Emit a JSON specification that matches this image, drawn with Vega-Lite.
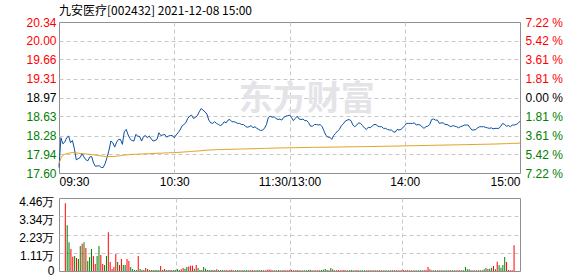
{
"$schema": "https://vega.github.io/schema/vega-lite/v6.json",
"background": "#ffffff",
"padding": {"left": 0, "top": 4, "right": 0, "bottom": 0},
"bounds": "flush",
"spacing": 25,
"config": {
  "font": "Liberation Sans",
  "view": {"stroke": "#8f8f8f", "strokeWidth": 1},
  "axis": {"labelFont": "Liberation Sans", "labelFontSize": 12, "domain": false, "ticks": false, "gridDash": [4, 3], "gridColor": "#c8c8c8", "gridWidth": 1, "title": null, "labelOverlap": false}
},
"datasets": {
"w": [{"t": 129, "p": 18.93, "s": "东方财富"}],
"m": [
{"t":0,"p":17.70,"a":17.77,"v":41350,"c":"u"},
{"t":1,"p":18.24,"a":17.87,"v":27970,"c":"d"},
{"t":2,"p":18.13,"a":17.92,"v":17630,"c":"d"},
{"t":3,"p":18.16,"a":17.94,"v":13380,"c":"u"},
{"t":4,"p":18.24,"a":17.95,"v":8720,"c":"u"},
{"t":5,"p":18.27,"a":17.96,"v":9120,"c":"d"},
{"t":6,"p":18.15,"a":17.965,"v":7900,"c":"u"},
{"t":7,"p":18.19,"a":17.97,"v":7300,"c":"d"},
{"t":8,"p":18.04,"a":17.97,"v":15200,"c":"d"},
{"t":9,"p":17.84,"a":17.965,"v":16620,"c":"u"},
{"t":10,"p":17.86,"a":17.96,"v":17630,"c":"d"},
{"t":11,"p":17.88,"a":17.955,"v":13990,"c":"u"},
{"t":12,"p":17.95,"a":17.95,"v":6080,"c":"d"},
{"t":13,"p":17.89,"a":17.95,"v":8510,"c":"d"},
{"t":14,"p":17.84,"a":17.945,"v":13380,"c":"d"},
{"t":15,"p":17.82,"a":17.94,"v":9120,"c":"u"},
{"t":16,"p":17.89,"a":17.94,"v":4260,"c":"u"},
{"t":17,"p":17.90,"a":17.935,"v":9120,"c":"d"},
{"t":18,"p":17.78,"a":17.93,"v":15200,"c":"d"},
{"t":19,"p":17.72,"a":17.925,"v":9730,"c":"u"},
{"t":20,"p":17.73,"a":17.92,"v":4260,"c":"u"},
{"t":21,"p":17.73,"a":17.915,"v":3650,"c":"d"},
{"t":22,"p":17.70,"a":17.91,"v":9120,"c":"d"},
{"t":23,"p":17.70,"a":17.905,"v":23720,"c":"u"},
{"t":24,"p":17.77,"a":17.90,"v":5470,"c":"u"},
{"t":25,"p":17.88,"a":17.90,"v":1220,"c":"u"},
{"t":26,"p":18.01,"a":17.90,"v":2430,"c":"u"},
{"t":27,"p":18.18,"a":17.90,"v":10340,"c":"u"},
{"t":28,"p":18.15,"a":17.90,"v":5470,"c":"d"},
{"t":29,"p":18.07,"a":17.90,"v":3650,"c":"u"},
{"t":30,"p":18.16,"a":17.905,"v":7300,"c":"u"},
{"t":31,"p":18.21,"a":17.91,"v":3650,"c":"d"},
{"t":32,"p":18.21,"a":17.915,"v":3650,"c":"d"},
{"t":33,"p":18.12,"a":17.92,"v":7300,"c":"u"},
{"t":34,"p":18.35,"a":17.925,"v":6080,"c":"u"},
{"t":35,"p":18.39,"a":17.93,"v":2430,"c":"d"},
{"t":36,"p":18.29,"a":17.93,"v":1220,"c":"d"},
{"t":37,"p":18.22,"a":17.935,"v":600,"c":"d"},
{"t":38,"p":18.19,"a":17.935,"v":600,"c":"d"},
{"t":39,"p":18.18,"a":17.94,"v":9120,"c":"u"},
{"t":40,"p":18.30,"a":17.94,"v":1220,"c":"d"},
{"t":41,"p":18.27,"a":17.94,"v":600,"c":"d"},
{"t":42,"p":18.26,"a":17.945,"v":600,"c":"u"},
{"t":43,"p":18.18,"a":17.945,"v":1820,"c":"u"},
{"t":44,"p":18.26,"a":17.945,"v":1220,"c":"d"},
{"t":45,"p":18.28,"a":17.95,"v":600,"c":"u"},
{"t":46,"p":18.24,"a":17.95,"v":600,"c":"u"},
{"t":47,"p":18.27,"a":17.95,"v":600,"c":"d"},
{"t":48,"p":18.22,"a":17.955,"v":600,"c":"d"},
{"t":49,"p":18.18,"a":17.955,"v":600,"c":"d"},
{"t":50,"p":18.19,"a":17.955,"v":600,"c":"d"},
{"t":51,"p":18.21,"a":17.96,"v":3040,"c":"u"},
{"t":52,"p":18.33,"a":17.96,"v":600,"c":"d"},
{"t":53,"p":18.28,"a":17.96,"v":1220,"c":"u"},
{"t":54,"p":18.29,"a":17.96,"v":600,"c":"d"},
{"t":55,"p":18.30,"a":17.965,"v":600,"c":"u"},
{"t":56,"p":18.25,"a":17.965,"v":600,"c":"d"},
{"t":57,"p":18.27,"a":17.965,"v":600,"c":"u"},
{"t":58,"p":18.28,"a":17.97,"v":600,"c":"d"},
{"t":59,"p":18.28,"a":17.97,"v":600,"c":"d"},
{"t":60,"p":18.24,"a":17.97,"v":1000,"c":"d"},
{"t":61,"p":18.29,"a":17.97,"v":600,"c":"d"},
{"t":62,"p":18.33,"a":17.975,"v":1000,"c":"u"},
{"t":63,"p":18.38,"a":17.975,"v":1800,"c":"u"},
{"t":64,"p":18.45,"a":17.98,"v":1400,"c":"d"},
{"t":65,"p":18.48,"a":17.98,"v":2430,"c":"d"},
{"t":66,"p":18.51,"a":17.985,"v":2800,"c":"u"},
{"t":67,"p":18.59,"a":17.985,"v":3200,"c":"u"},
{"t":68,"p":18.63,"a":17.99,"v":3200,"c":"u"},
{"t":69,"p":18.65,"a":17.99,"v":1400,"c":"d"},
{"t":70,"p":18.59,"a":17.995,"v":3650,"c":"u"},
{"t":71,"p":18.61,"a":17.995,"v":1800,"c":"d"},
{"t":72,"p":18.64,"a":18.00,"v":600,"c":"d"},
{"t":73,"p":18.71,"a":18.00,"v":600,"c":"u"},
{"t":74,"p":18.77,"a":18.005,"v":2430,"c":"d"},
{"t":75,"p":18.74,"a":18.01,"v":1400,"c":"d"},
{"t":76,"p":18.71,"a":18.01,"v":600,"c":"d"},
{"t":77,"p":18.67,"a":18.015,"v":600,"c":"d"},
{"t":78,"p":18.56,"a":18.015,"v":600,"c":"d"},
{"t":79,"p":18.51,"a":18.02,"v":600,"c":"u"},
{"t":80,"p":18.50,"a":18.02,"v":600,"c":"d"},
{"t":81,"p":18.53,"a":18.02,"v":1000,"c":"u"},
{"t":82,"p":18.50,"a":18.025,"v":600,"c":"d"},
{"t":83,"p":18.48,"a":18.025,"v":500,"c":"d"},
{"t":84,"p":18.46,"a":18.025,"v":600,"c":"d"},
{"t":85,"p":18.48,"a":18.025,"v":500,"c":"u"},
{"t":86,"p":18.53,"a":18.03,"v":600,"c":"u"},
{"t":87,"p":18.51,"a":18.03,"v":500,"c":"d"},
{"t":88,"p":18.56,"a":18.03,"v":600,"c":"u"},
{"t":89,"p":18.57,"a":18.03,"v":700,"c":"u"},
{"t":90,"p":18.53,"a":18.03,"v":500,"c":"d"},
{"t":91,"p":18.53,"a":18.032,"v":500,"c":"u"},
{"t":92,"p":18.52,"a":18.032,"v":600,"c":"d"},
{"t":93,"p":18.50,"a":18.034,"v":500,"c":"d"},
{"t":94,"p":18.50,"a":18.034,"v":500,"c":"u"},
{"t":95,"p":18.48,"a":18.036,"v":600,"c":"d"},
{"t":96,"p":18.48,"a":18.036,"v":500,"c":"d"},
{"t":97,"p":18.45,"a":18.038,"v":600,"c":"d"},
{"t":98,"p":18.43,"a":18.038,"v":500,"c":"d"},
{"t":99,"p":18.44,"a":18.04,"v":500,"c":"u"},
{"t":100,"p":18.46,"a":18.04,"v":600,"c":"u"},
{"t":101,"p":18.42,"a":18.04,"v":500,"c":"d"},
{"t":102,"p":18.44,"a":18.042,"v":500,"c":"u"},
{"t":103,"p":18.41,"a":18.042,"v":600,"c":"d"},
{"t":104,"p":18.39,"a":18.044,"v":500,"c":"d"},
{"t":105,"p":18.37,"a":18.044,"v":600,"c":"d"},
{"t":106,"p":18.38,"a":18.046,"v":500,"c":"u"},
{"t":107,"p":18.41,"a":18.046,"v":500,"c":"u"},
{"t":108,"p":18.48,"a":18.048,"v":700,"c":"u"},
{"t":109,"p":18.61,"a":18.048,"v":900,"c":"u"},
{"t":110,"p":18.63,"a":18.05,"v":700,"c":"u"},
{"t":111,"p":18.61,"a":18.05,"v":500,"c":"d"},
{"t":112,"p":18.62,"a":18.052,"v":500,"c":"u"},
{"t":113,"p":18.59,"a":18.052,"v":500,"c":"d"},
{"t":114,"p":18.57,"a":18.054,"v":600,"c":"d"},
{"t":115,"p":18.58,"a":18.054,"v":500,"c":"u"},
{"t":116,"p":18.56,"a":18.055,"v":500,"c":"d"},
{"t":117,"p":18.61,"a":18.056,"v":600,"c":"u"},
{"t":118,"p":18.63,"a":18.056,"v":500,"c":"u"},
{"t":119,"p":18.64,"a":18.057,"v":500,"c":"u"},
{"t":120,"p":18.65,"a":18.058,"v":600,"c":"u"},
{"t":121,"p":18.61,"a":18.058,"v":600,"c":"u"},
{"t":122,"p":18.55,"a":18.059,"v":500,"c":"d"},
{"t":123,"p":18.59,"a":18.06,"v":500,"c":"u"},
{"t":124,"p":18.63,"a":18.06,"v":600,"c":"u"},
{"t":125,"p":18.58,"a":18.061,"v":500,"c":"d"},
{"t":126,"p":18.57,"a":18.061,"v":500,"c":"d"},
{"t":127,"p":18.58,"a":18.062,"v":500,"c":"u"},
{"t":128,"p":18.55,"a":18.062,"v":500,"c":"d"},
{"t":129,"p":18.55,"a":18.063,"v":500,"c":"d"},
{"t":130,"p":18.51,"a":18.063,"v":600,"c":"d"},
{"t":131,"p":18.45,"a":18.064,"v":700,"c":"d"},
{"t":132,"p":18.45,"a":18.064,"v":500,"c":"u"},
{"t":133,"p":18.48,"a":18.065,"v":500,"c":"u"},
{"t":134,"p":18.48,"a":18.065,"v":500,"c":"u"},
{"t":135,"p":18.47,"a":18.066,"v":500,"c":"d"},
{"t":136,"p":18.48,"a":18.066,"v":500,"c":"u"},
{"t":137,"p":18.44,"a":18.067,"v":600,"c":"d"},
{"t":138,"p":18.36,"a":18.067,"v":700,"c":"d"},
{"t":139,"p":18.28,"a":18.068,"v":1200,"c":"d"},
{"t":140,"p":18.25,"a":18.068,"v":600,"c":"d"},
{"t":141,"p":18.25,"a":18.069,"v":500,"c":"u"},
{"t":142,"p":18.21,"a":18.069,"v":1800,"c":"d"},
{"t":143,"p":18.28,"a":18.07,"v":1000,"c":"d"},
{"t":144,"p":18.32,"a":18.07,"v":500,"c":"u"},
{"t":145,"p":18.36,"a":18.071,"v":500,"c":"u"},
{"t":146,"p":18.39,"a":18.071,"v":600,"c":"u"},
{"t":147,"p":18.46,"a":18.072,"v":500,"c":"u"},
{"t":148,"p":18.49,"a":18.073,"v":500,"c":"u"},
{"t":149,"p":18.54,"a":18.073,"v":600,"c":"u"},
{"t":150,"p":18.56,"a":18.074,"v":500,"c":"u"},
{"t":151,"p":18.57,"a":18.075,"v":500,"c":"u"},
{"t":152,"p":18.55,"a":18.075,"v":500,"c":"d"},
{"t":153,"p":18.47,"a":18.076,"v":600,"c":"d"},
{"t":154,"p":18.44,"a":18.076,"v":500,"c":"d"},
{"t":155,"p":18.47,"a":18.077,"v":500,"c":"u"},
{"t":156,"p":18.51,"a":18.077,"v":600,"c":"u"},
{"t":157,"p":18.50,"a":18.078,"v":500,"c":"d"},
{"t":158,"p":18.46,"a":18.078,"v":500,"c":"d"},
{"t":159,"p":18.42,"a":18.079,"v":500,"c":"d"},
{"t":160,"p":18.39,"a":18.079,"v":500,"c":"d"},
{"t":161,"p":18.43,"a":18.08,"v":500,"c":"u"},
{"t":162,"p":18.42,"a":18.08,"v":500,"c":"d"},
{"t":163,"p":18.45,"a":18.081,"v":500,"c":"u"},
{"t":164,"p":18.48,"a":18.081,"v":500,"c":"u"},
{"t":165,"p":18.48,"a":18.082,"v":500,"c":"u"},
{"t":166,"p":18.45,"a":18.082,"v":500,"c":"d"},
{"t":167,"p":18.44,"a":18.083,"v":500,"c":"d"},
{"t":168,"p":18.44,"a":18.084,"v":500,"c":"u"},
{"t":169,"p":18.41,"a":18.084,"v":500,"c":"d"},
{"t":170,"p":18.41,"a":18.085,"v":500,"c":"u"},
{"t":171,"p":18.39,"a":18.086,"v":500,"c":"d"},
{"t":172,"p":18.38,"a":18.086,"v":500,"c":"d"},
{"t":173,"p":18.38,"a":18.087,"v":500,"c":"u"},
{"t":174,"p":18.35,"a":18.088,"v":500,"c":"d"},
{"t":175,"p":18.34,"a":18.088,"v":500,"c":"d"},
{"t":176,"p":18.39,"a":18.089,"v":500,"c":"u"},
{"t":177,"p":18.38,"a":18.09,"v":500,"c":"d"},
{"t":178,"p":18.39,"a":18.09,"v":500,"c":"u"},
{"t":179,"p":18.42,"a":18.091,"v":500,"c":"u"},
{"t":180,"p":18.46,"a":18.092,"v":500,"c":"u"},
{"t":181,"p":18.50,"a":18.093,"v":600,"c":"u"},
{"t":182,"p":18.50,"a":18.094,"v":500,"c":"u"},
{"t":183,"p":18.50,"a":18.094,"v":500,"c":"d"},
{"t":184,"p":18.50,"a":18.095,"v":500,"c":"u"},
{"t":185,"p":18.51,"a":18.096,"v":500,"c":"u"},
{"t":186,"p":18.47,"a":18.096,"v":500,"c":"d"},
{"t":187,"p":18.48,"a":18.097,"v":500,"c":"u"},
{"t":188,"p":18.47,"a":18.098,"v":500,"c":"d"},
{"t":189,"p":18.44,"a":18.098,"v":500,"c":"d"},
{"t":190,"p":18.41,"a":18.099,"v":500,"c":"d"},
{"t":191,"p":18.44,"a":18.10,"v":500,"c":"u"},
{"t":192,"p":18.45,"a":18.10,"v":500,"c":"u"},
{"t":193,"p":18.48,"a":18.101,"v":600,"c":"u"},
{"t":194,"p":18.57,"a":18.102,"v":2430,"c":"u"},
{"t":195,"p":18.58,"a":18.103,"v":1000,"c":"u"},
{"t":196,"p":18.56,"a":18.104,"v":500,"c":"d"},
{"t":197,"p":18.56,"a":18.104,"v":500,"c":"d"},
{"t":198,"p":18.50,"a":18.105,"v":500,"c":"d"},
{"t":199,"p":18.51,"a":18.106,"v":500,"c":"u"},
{"t":200,"p":18.51,"a":18.106,"v":500,"c":"u"},
{"t":201,"p":18.48,"a":18.107,"v":500,"c":"d"},
{"t":202,"p":18.48,"a":18.108,"v":500,"c":"d"},
{"t":203,"p":18.46,"a":18.108,"v":500,"c":"d"},
{"t":204,"p":18.44,"a":18.109,"v":500,"c":"d"},
{"t":205,"p":18.46,"a":18.11,"v":500,"c":"u"},
{"t":206,"p":18.45,"a":18.111,"v":500,"c":"d"},
{"t":207,"p":18.44,"a":18.111,"v":500,"c":"d"},
{"t":208,"p":18.42,"a":18.112,"v":500,"c":"d"},
{"t":209,"p":18.44,"a":18.113,"v":500,"c":"u"},
{"t":210,"p":18.45,"a":18.113,"v":500,"c":"u"},
{"t":211,"p":18.47,"a":18.114,"v":500,"c":"u"},
{"t":212,"p":18.47,"a":18.115,"v":500,"c":"d"},
{"t":213,"p":18.47,"a":18.115,"v":500,"c":"d"},
{"t":214,"p":18.42,"a":18.116,"v":2430,"c":"d"},
{"t":215,"p":18.38,"a":18.117,"v":1000,"c":"d"},
{"t":216,"p":18.38,"a":18.118,"v":1000,"c":"d"},
{"t":217,"p":18.39,"a":18.118,"v":500,"c":"u"},
{"t":218,"p":18.42,"a":18.119,"v":500,"c":"u"},
{"t":219,"p":18.44,"a":18.12,"v":500,"c":"d"},
{"t":220,"p":18.44,"a":18.12,"v":500,"c":"d"},
{"t":221,"p":18.44,"a":18.121,"v":500,"c":"u"},
{"t":222,"p":18.43,"a":18.122,"v":500,"c":"u"},
{"t":223,"p":18.42,"a":18.122,"v":500,"c":"d"},
{"t":224,"p":18.41,"a":18.123,"v":1000,"c":"d"},
{"t":225,"p":18.42,"a":18.124,"v":1820,"c":"d"},
{"t":226,"p":18.40,"a":18.125,"v":1220,"c":"u"},
{"t":227,"p":18.41,"a":18.126,"v":1420,"c":"d"},
{"t":228,"p":18.41,"a":18.127,"v":2030,"c":"d"},
{"t":229,"p":18.41,"a":18.128,"v":3040,"c":"u"},
{"t":230,"p":18.45,"a":18.13,"v":1000,"c":"d"},
{"t":231,"p":18.50,"a":18.131,"v":5600,"c":"u"},
{"t":232,"p":18.48,"a":18.132,"v":3650,"c":"d"},
{"t":233,"p":18.45,"a":18.133,"v":2030,"c":"d"},
{"t":234,"p":18.46,"a":18.134,"v":3650,"c":"d"},
{"t":235,"p":18.44,"a":18.136,"v":8510,"c":"d"},
{"t":236,"p":18.47,"a":18.137,"v":5470,"c":"u"},
{"t":237,"p":18.47,"a":18.138,"v":600,"c":"u"},
{"t":238,"p":18.48,"a":18.139,"v":500,"c":"u"},
{"t":239,"p":18.50,"a":18.14,"v":500,"c":"u"},
{"t":240,"p":18.54,"a":18.145,"v":15700,"c":"u"}
]
},
"vconcat": [
{
  "width": 461,
  "height": 151,
  "title": {"text": "九安医疗[002432] 2021-12-08 15:00", "anchor": "start", "frame": "group", "font": "Noto Sans CJK SC", "fontSize": 12, "fontWeight": "normal", "color": "#000000", "offset": -2},
  "layer": [
    {
      "data": {"name": "w"},
      "mark": {"type": "text", "font": "Noto Sans CJK SC", "fontSize": 34, "fontWeight": "bold", "color": "#e4e4e8"},
      "encoding": {
        "x": {"field": "t", "type": "quantitative", "scale": {"domain": [0, 240], "nice": false, "zero": false}},
        "y": {"field": "p", "type": "quantitative", "scale": {"domain": [17.6, 20.34], "nice": false, "zero": false}, "axis": null},
        "text": {"field": "s"}
      }
    },
    {
      "data": {"name": "m"},
      "mark": {"type": "line", "color": "#0b4fa3", "strokeWidth": 1},
      "encoding": {
        "x": {"field": "t", "type": "quantitative", "scale": {"domain": [0, 240], "nice": false, "zero": false},
          "axis": {"values": [0, 60, 120, 180, 240], "labelExpr": "datum.value == 0 ? '09:30' : datum.value == 60 ? '10:30' : datum.value == 120 ? '11:30/13:00' : datum.value == 180 ? '14:00' : '15:00'", "labelFlush": true, "labelPadding": 3, "labelColor": "#000000", "grid": true,
            "gridColor": {"condition": {"test": "datum.value == 0 || datum.value == 240", "value": "transparent"}, "value": "#c8c8c8"}}},
        "y": {"field": "p", "type": "quantitative", "scale": {"domain": [17.6, 20.34], "nice": false, "zero": false},
          "axis": {"orient": "left", "values": [17.6, 17.94, 18.28, 18.63, 18.97, 19.31, 19.66, 20.0, 20.34], "format": ".2f", "labelPadding": 3, "minExtent": 58, "maxExtent": 58, "grid": true,
            "gridColor": {"condition": {"test": "datum.value < 17.61 || datum.value > 20.33", "value": "transparent"}, "value": "#c8c8c8"},
            "labelColor": {"condition": [{"test": "datum.value > 18.98", "value": "#ff0000"}, {"test": "datum.value < 18.96", "value": "#008000"}], "value": "#000000"}}}
      }
    },
    {
      "data": {"name": "m"},
      "mark": {"type": "line", "color": "#e0a01c", "strokeWidth": 1},
      "encoding": {
        "x": {"field": "t", "type": "quantitative", "scale": {"domain": [0, 240], "nice": false, "zero": false}},
        "y": {"field": "a", "type": "quantitative", "scale": {"domain": [17.6, 20.34], "nice": false, "zero": false},
          "axis": {"orient": "right", "values": [17.6, 17.94, 18.28, 18.63, 18.97, 19.31, 19.66, 20.0, 20.34], "grid": false, "labelPadding": 5,
            "labelExpr": "abs(datum.value - 18.97) < 0.01 ? '0.00 %' : abs(datum.value - 18.97) < 0.4 ? '1.81 %' : abs(datum.value - 18.97) < 0.75 ? '3.61 %' : abs(datum.value - 18.97) < 1.1 ? '5.42 %' : '7.22 %'",
            "labelColor": {"condition": [{"test": "datum.value > 18.98", "value": "#ff0000"}, {"test": "datum.value < 18.96", "value": "#008000"}], "value": "#000000"}}}
      }
    }
  ],
  "resolve": {"axis": {"y": "independent"}}
},
{
  "width": 461,
  "height": 73,
  "data": {"name": "m"},
  "mark": {"type": "bar", "width": 1},
  "encoding": {
    "x": {"field": "t", "type": "quantitative", "scale": {"domain": [-0.7, 240.5], "nice": false, "zero": false},
      "axis": {"values": [59.3, 119.9, 180.3], "labels": false, "grid": true}},
    "y": {"field": "v", "type": "quantitative", "stack": null, "scale": {"domain": [0, 44600], "nice": false},
      "axis": {"values": [0, 11100, 22300, 33400, 44600], "labelExpr": "datum.value == 0 ? '0' : format(datum.value / 10000, '.2f') + '万'", "labelPadding": 5, "minExtent": 58, "maxExtent": 58, "labelColor": "#000000", "grid": true,
        "gridColor": {"condition": {"test": "datum.value == 0 || datum.value == 44600", "value": "transparent"}, "value": "#c8c8c8"},
        "labelOffset": {"condition": {"test": "datum.value == 0", "value": -1}, "value": 3}}},
    "color": {"field": "c", "type": "nominal", "scale": {"domain": ["u", "d"], "range": ["#ff0000", "#008000"]}, "legend": null}
  }
}
]
}
